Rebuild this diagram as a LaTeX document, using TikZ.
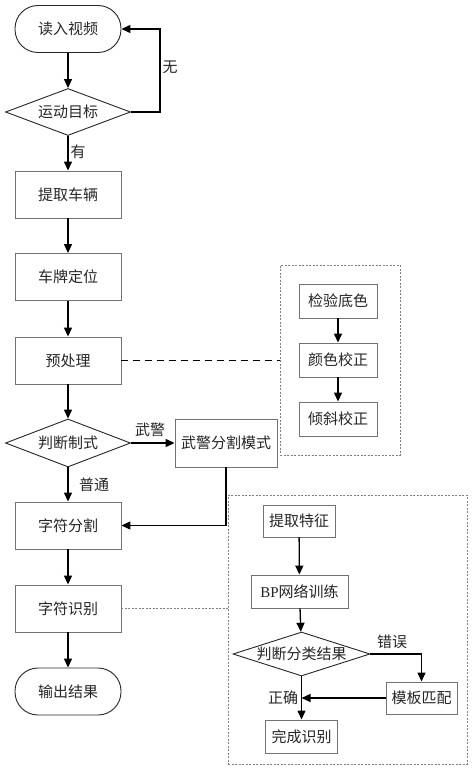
\documentclass[tikz,border=0pt]{standalone}
\usepackage{fontspec}
\setmainfont{Liberation Serif}
\newfontfamily\cjk{Noto Sans CJK SC}
\usetikzlibrary{shapes.geometric,arrows.meta}
\begin{document}
\begin{tikzpicture}[x=1pt,y=-1pt,
  every node/.style={font=\cjk\fontsize{15}{17}\selectfont, inner sep=0pt, text=black!85},
  proc/.style={draw=black!55, line width=0.9pt, minimum width=106pt, minimum height=47pt},
  small/.style={draw=black!55, line width=0.9pt},
  term/.style={draw=black!85, rounded corners=23pt, line width=0.9pt, minimum width=106pt, minimum height=47pt},
  dec/.style={draw=black!85, diamond, line width=0.9pt},
  grp/.style={draw=black!50, dashed, dash pattern=on 2pt off 1.5pt, line width=0.6pt},
  arr/.style={line width=1.3pt, -{Triangle[length=9pt,width=8pt]}},
  lbl/.style={}
]
\useasboundingbox (0,0) rectangle (474,773);
\fill[white] (0,0) rectangle (474,773);

% main column
\node[term] (read) at (68,29) {读入视频};
\node[dec, aspect=2.6, minimum width=125pt, minimum height=47pt] (motion) at (68,112) {运动目标};
\node[proc] (extract) at (68,194.5) {提取车辆};
\node[proc] (locate) at (68,277) {车牌定位};
\node[proc] (prep) at (68,360.5) {预处理};
\node[dec, aspect=2.6, minimum width=125pt, minimum height=48pt] (judge) at (68,443) {判断制式};
\node[proc, minimum width=102pt, minimum height=48pt] (wj) at (226,443) {武警分割模式};
\node[proc] (seg) at (68,525.5) {字符分割};
\node[proc] (rec) at (68,608.5) {字符识别};
\node[term] (out) at (68,691.5) {输出结果};

% group 1
\node[grp, minimum width=120pt, minimum height=190pt] (grp1) at (340,360) {};
\node[small, minimum width=78pt, minimum height=34pt] (check) at (338,301) {检验底色};
\node[small, minimum width=78pt, minimum height=34pt] (color) at (338,360) {颜色校正};
\node[small, minimum width=78pt, minimum height=34pt] (tilt) at (338,419) {倾斜校正};

% group 2
\node[grp, minimum width=239pt, minimum height=269pt] (grp2) at (347.5,629.5) {};
\node[small, minimum width=72pt, minimum height=32pt] (feat) at (299,521) {提取特征};
\node[small, minimum width=97pt, minimum height=33pt] (bp) at (299.5,591.5) {{\rmfamily BP}网络训练};
\node[dec, aspect=3.1, minimum width=137pt, minimum height=44pt] (cls) at (301.5,654) {判断分类结果};
\node[small, minimum width=71pt, minimum height=32pt] (tmpl) at (421.5,698) {模板匹配};
\node[small, minimum width=72pt, minimum height=33pt] (done) at (301.5,736.5) {完成识别};

% connectors main
\draw[arr] (read) -- (motion);
\draw[arr] (motion.east) -- ++(29,0) |- (read.east);
\node[lbl] (lwu) at (170,67) {无};
\draw[arr] (motion) -- (extract);
\node[lbl] (lyou) at (78,152) {有};
\draw[arr] (extract) -- (locate);
\draw[arr] (locate) -- (prep);
\draw[arr] (prep) -- (judge);
\draw[line width=1.3pt, dash pattern=on 7pt off 5pt] (prep.east) -- (prep.east -| grp1.west);
\draw[arr] (judge.east) -- (wj.west);
\node[lbl] (lwj) at (150,430) {武警};
\draw[arr] (judge.south) -- (seg.north);
\node[lbl] (lpt) at (94,485) {普通};
\draw[arr] (wj.south) |- (seg.east);
\draw[arr] (seg) -- (rec);
\draw[arr] (rec) -- (out);
\draw[black!50, line width=0.6pt, dash pattern=on 2pt off 1.5pt] (rec.east) -- (rec.east -| grp2.west);

% group 1 arrows
\draw[arr] (check) -- (color);
\draw[arr] (color) -- (tilt);

% group 2 arrows
\draw[arr] (feat) -- (bp);
\draw[arr] (bp) -- (cls);
\draw[arr] (cls.south) -- (done.north);
\draw[arr] (cls.east) -| (tmpl.north);
\node[lbl] (lerr) at (392,642) {错误};
\draw[arr] (tmpl.west) -- (tmpl.west -| cls.south);
\node[lbl] (lok) at (283,698) {正确};
\end{tikzpicture}
\end{document}
